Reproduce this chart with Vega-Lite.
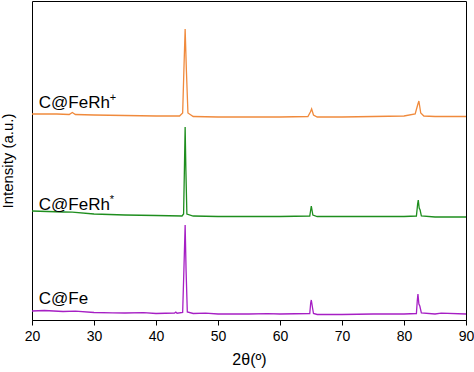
{
  "$schema": "https://vega.github.io/schema/vega-lite/v6.json",
  "width": 434,
  "height": 319,
  "padding": {"left": 32, "top": 1, "right": 8, "bottom": 52},
  "autosize": {"type": "none"},
  "background": "white",
  "config": {
    "font": "Liberation Sans",
    "view": {"stroke": "#000", "strokeWidth": 1}
  },
  "datasets": {
    "xrd": [
      {"s": "C@FeRh+", "t": 20, "i": 206}, {"s": "C@FeRh+", "t": 24, "i": 206}, {"s": "C@FeRh+", "t": 26, "i": 205.5}, {"s": "C@FeRh+", "t": 26.5, "i": 207.5}, {"s": "C@FeRh+", "t": 27, "i": 205.5}, {"s": "C@FeRh+", "t": 30, "i": 205}, {"s": "C@FeRh+", "t": 35, "i": 204.5}, {"s": "C@FeRh+", "t": 40, "i": 204}, {"s": "C@FeRh+", "t": 43.8, "i": 204}, {"s": "C@FeRh+", "t": 44.3, "i": 207}, {"s": "C@FeRh+", "t": 44.5, "i": 250}, {"s": "C@FeRh+", "t": 44.7, "i": 291}, {"s": "C@FeRh+", "t": 44.9, "i": 250}, {"s": "C@FeRh+", "t": 45.15, "i": 207}, {"s": "C@FeRh+", "t": 46, "i": 203.5}, {"s": "C@FeRh+", "t": 50, "i": 203}, {"s": "C@FeRh+", "t": 55, "i": 203}, {"s": "C@FeRh+", "t": 60, "i": 203}, {"s": "C@FeRh+", "t": 64.5, "i": 203.5}, {"s": "C@FeRh+", "t": 64.9, "i": 208}, {"s": "C@FeRh+", "t": 65.1, "i": 211}, {"s": "C@FeRh+", "t": 65.4, "i": 205}, {"s": "C@FeRh+", "t": 66, "i": 203}, {"s": "C@FeRh+", "t": 70, "i": 203}, {"s": "C@FeRh+", "t": 75, "i": 203.5}, {"s": "C@FeRh+", "t": 80, "i": 204}, {"s": "C@FeRh+", "t": 81.8, "i": 206}, {"s": "C@FeRh+", "t": 82.2, "i": 215}, {"s": "C@FeRh+", "t": 82.4, "i": 219}, {"s": "C@FeRh+", "t": 82.7, "i": 207}, {"s": "C@FeRh+", "t": 83.2, "i": 204}, {"s": "C@FeRh+", "t": 85, "i": 203.5}, {"s": "C@FeRh+", "t": 90, "i": 203.5},
      {"s": "C@FeRh*", "t": 20, "i": 109}, {"s": "C@FeRh*", "t": 25, "i": 108}, {"s": "C@FeRh*", "t": 26.5, "i": 107.8}, {"s": "C@FeRh*", "t": 30, "i": 106}, {"s": "C@FeRh*", "t": 35, "i": 105}, {"s": "C@FeRh*", "t": 40, "i": 104.5}, {"s": "C@FeRh*", "t": 44.2, "i": 104}, {"s": "C@FeRh*", "t": 44.45, "i": 106}, {"s": "C@FeRh*", "t": 44.58, "i": 150}, {"s": "C@FeRh*", "t": 44.7, "i": 193}, {"s": "C@FeRh*", "t": 44.82, "i": 150}, {"s": "C@FeRh*", "t": 44.98, "i": 106}, {"s": "C@FeRh*", "t": 46, "i": 104}, {"s": "C@FeRh*", "t": 50, "i": 103.5}, {"s": "C@FeRh*", "t": 55, "i": 103.5}, {"s": "C@FeRh*", "t": 60, "i": 103.5}, {"s": "C@FeRh*", "t": 64.8, "i": 104}, {"s": "C@FeRh*", "t": 64.95, "i": 110}, {"s": "C@FeRh*", "t": 65.05, "i": 114}, {"s": "C@FeRh*", "t": 65.3, "i": 105}, {"s": "C@FeRh*", "t": 66, "i": 103.5}, {"s": "C@FeRh*", "t": 70, "i": 103.5}, {"s": "C@FeRh*", "t": 75, "i": 103.5}, {"s": "C@FeRh*", "t": 80, "i": 103.5}, {"s": "C@FeRh*", "t": 82, "i": 104}, {"s": "C@FeRh*", "t": 82.2, "i": 116}, {"s": "C@FeRh*", "t": 82.3, "i": 120}, {"s": "C@FeRh*", "t": 82.45, "i": 112}, {"s": "C@FeRh*", "t": 82.6, "i": 110}, {"s": "C@FeRh*", "t": 82.8, "i": 104}, {"s": "C@FeRh*", "t": 85, "i": 103}, {"s": "C@FeRh*", "t": 90, "i": 103},
      {"s": "C@Fe", "t": 20, "i": 9}, {"s": "C@Fe", "t": 22, "i": 9.5}, {"s": "C@Fe", "t": 25, "i": 8.5}, {"s": "C@Fe", "t": 27, "i": 8.8}, {"s": "C@Fe", "t": 30, "i": 7.5}, {"s": "C@Fe", "t": 33, "i": 7.2}, {"s": "C@Fe", "t": 35, "i": 7}, {"s": "C@Fe", "t": 38, "i": 7.3}, {"s": "C@Fe", "t": 40, "i": 6.5}, {"s": "C@Fe", "t": 43, "i": 7}, {"s": "C@Fe", "t": 43.2, "i": 8}, {"s": "C@Fe", "t": 43.4, "i": 6.8}, {"s": "C@Fe", "t": 44.3, "i": 7.5}, {"s": "C@Fe", "t": 44.5, "i": 50}, {"s": "C@Fe", "t": 44.7, "i": 95}, {"s": "C@Fe", "t": 44.85, "i": 50}, {"s": "C@Fe", "t": 45.05, "i": 8}, {"s": "C@Fe", "t": 46, "i": 6.5}, {"s": "C@Fe", "t": 48, "i": 6.8}, {"s": "C@Fe", "t": 50, "i": 6}, {"s": "C@Fe", "t": 55, "i": 6}, {"s": "C@Fe", "t": 58, "i": 6.4}, {"s": "C@Fe", "t": 60, "i": 6}, {"s": "C@Fe", "t": 64.8, "i": 6.5}, {"s": "C@Fe", "t": 64.95, "i": 17}, {"s": "C@Fe", "t": 65.05, "i": 20}, {"s": "C@Fe", "t": 65.25, "i": 12}, {"s": "C@Fe", "t": 65.4, "i": 6.5}, {"s": "C@Fe", "t": 66, "i": 5.5}, {"s": "C@Fe", "t": 70, "i": 5.5}, {"s": "C@Fe", "t": 75, "i": 6}, {"s": "C@Fe", "t": 80, "i": 6}, {"s": "C@Fe", "t": 82, "i": 6.5}, {"s": "C@Fe", "t": 82.15, "i": 20}, {"s": "C@Fe", "t": 82.25, "i": 26}, {"s": "C@Fe", "t": 82.4, "i": 16}, {"s": "C@Fe", "t": 82.55, "i": 14}, {"s": "C@Fe", "t": 82.8, "i": 7}, {"s": "C@Fe", "t": 85, "i": 6}, {"s": "C@Fe", "t": 86, "i": 6.8}, {"s": "C@Fe", "t": 90, "i": 6}
    ],
    "labels": [
      {"s": "C@FeRh+", "label": "C@FeRh", "sup": "+", "t": 21.1, "i": 212},
      {"s": "C@FeRh*", "label": "C@FeRh", "sup": "*", "t": 21.1, "i": 110},
      {"s": "C@Fe", "label": "C@Fe", "sup": "", "t": 21.1, "i": 16}
    ]
  },
  "layer": [
    {
      "data": {"name": "xrd"},
      "mark": {"type": "line", "strokeWidth": 1.3, "interpolate": "linear"},
      "encoding": {
        "x": {"field": "t", "type": "quantitative", "scale": {"domain": [20, 90], "nice": false},
          "axis": {"values": [20, 25, 30, 35, 40, 45, 50, 55, 60, 65, 70, 75, 80, 85, 90],
            "labelExpr": "datum.value % 10 == 0 ? datum.label : ''",
            "tickSize": {"condition": {"test": "datum.value % 10 != 0", "value": 3}, "value": 5},
            "title": "2θ(º)", "titleFontSize": 16, "titleFontWeight": "normal", "titleColor": "#000", "labelFontSize": 14, "labelColor": "#000", "tickColor": "#000", "domainColor": "#000", "labelPadding": 4, "titlePadding": 8, "grid": false, "labelFlush": false, "labelOverlap": false}},
        "y": {"field": "i", "type": "quantitative", "scale": {"domain": [0, 319], "nice": false, "zero": false},
          "axis": {"title": "Intensity (a.u.)", "labels": false, "ticks": false, "domain": false, "grid": false, "titleFontSize": 15, "titleFontWeight": "normal", "titleColor": "#000", "titlePadding": 17}},
        "color": {"field": "s", "type": "nominal", "legend": null,
          "scale": {"domain": ["C@FeRh+", "C@FeRh*", "C@Fe"], "range": ["#F08A3C", "#1E8E1E", "#A61FC4"]}},
        "detail": {"field": "s"}
      }
    },
    {
      "data": {"name": "labels"},
      "mark": {"type": "text", "align": "left", "baseline": "alphabetic", "fontSize": 17, "color": "#000"},
      "encoding": {
        "x": {"field": "t", "type": "quantitative"},
        "y": {"field": "i", "type": "quantitative"},
        "text": {"field": "label"}
      }
    },
    {
      "data": {"name": "labels"},
      "mark": {"type": "text", "align": "left", "baseline": "alphabetic", "fontSize": 11, "dx": 71, "dy": -7, "color": "#000"},
      "encoding": {
        "x": {"field": "t", "type": "quantitative"},
        "y": {"field": "i", "type": "quantitative"},
        "text": {"field": "sup"}
      }
    }
  ]
}
